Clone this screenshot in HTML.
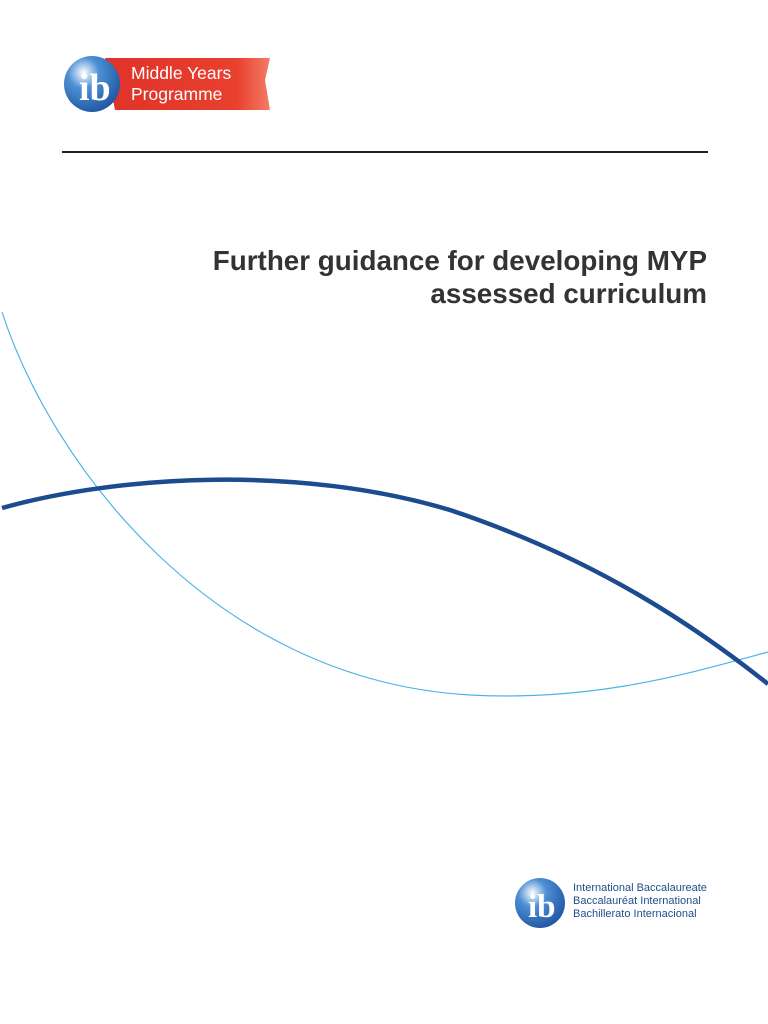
<!DOCTYPE html>
<html><head><meta charset="utf-8"><style>
html,body{margin:0;padding:0;background:#fff;}
body{width:768px;height:1024px;position:relative;overflow:hidden;font-family:"Liberation Sans",sans-serif;}
.abs{position:absolute;}
</style></head><body>
<svg class="abs" style="left:0;top:0" width="768" height="1024">
  <path d="M2,312 C50,460 210,680 470,695 C600,702 700,670 768,652" fill="none" stroke="#4db4e6" stroke-width="1.2"/>
  <path d="M2,508 C120,475 300,465 450,510 C600,560 700,630 768,684" fill="none" stroke="#1c4b8f" stroke-width="4.5"/>
</svg>
<svg class="abs" style="top:50px;left:55px" width="220" height="70">
  <defs>
    <linearGradient id="rg" x1="0" x2="1"><stop offset="0" stop-color="#e0322a"/><stop offset="0.8" stop-color="#e8402e"/><stop offset="1" stop-color="#f27c65"/></linearGradient>
    <radialGradient id="bg1" cx="0.35" cy="0.3" r="0.8"><stop offset="0" stop-color="#ffffff"/><stop offset="0.35" stop-color="#4d8fd4"/><stop offset="1" stop-color="#1a4f9c"/></radialGradient>
  </defs>
  <path d="M50,8 L215,8 L210,30 L215,60 L60,60 Z" fill="url(#rg)"/>
  <circle cx="37" cy="34" r="28" fill="url(#bg1)"/>
  <text x="24" y="50" font-family="Liberation Serif,serif" font-size="38" fill="#fff" font-weight="bold">ib</text>
  <text x="76" y="29" font-size="17.5" fill="#fff">Middle Years</text>
  <text x="76" y="50" font-size="17.5" fill="#fff">Programme</text>
</svg>
<div class="abs" style="left:62px;top:151px;width:646px;height:2px;background:#222"></div>
<div class="abs" style="right:61px;top:244px;text-align:right;font-size:27.8px;font-weight:bold;color:#333;line-height:33px;">Further guidance for developing MYP<br>assessed curriculum</div>
<svg class="abs" style="left:512px;top:875px" width="200" height="56">
  <defs><radialGradient id="bg2" cx="0.35" cy="0.3" r="0.8"><stop offset="0" stop-color="#ffffff"/><stop offset="0.35" stop-color="#4d8fd4"/><stop offset="1" stop-color="#1a4f9c"/></radialGradient></defs>
  <circle cx="28" cy="28" r="25" fill="url(#bg2)"/>
  <text x="16" y="42" font-family="Liberation Serif,serif" font-size="33" fill="#fff" font-weight="bold">ib</text>
  <text x="61" y="16" font-size="11" fill="#1f4e8c" font-weight="500">International Baccalaureate</text>
  <text x="61" y="29" font-size="11" fill="#1f4e8c" font-weight="500">Baccalauréat International</text>
  <text x="61" y="42" font-size="11" fill="#1f4e8c" font-weight="500">Bachillerato Internacional</text>
</svg>
</body></html>
